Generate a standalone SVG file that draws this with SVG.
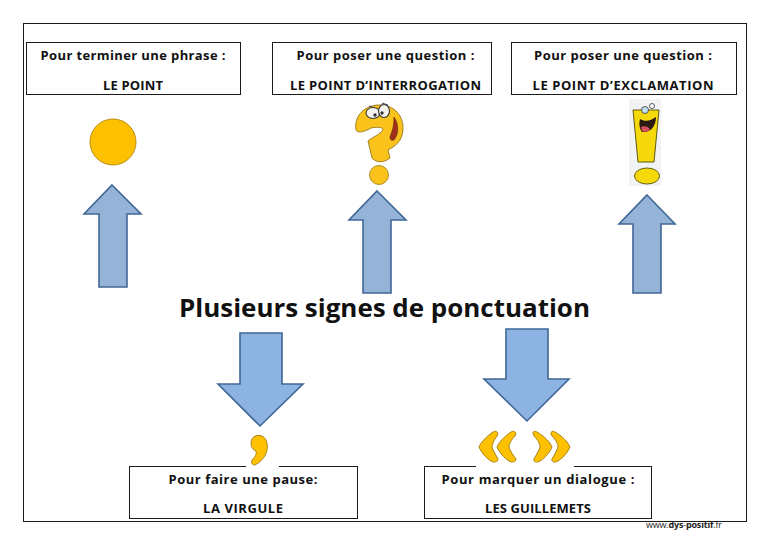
<svg xmlns="http://www.w3.org/2000/svg" width="768" height="543" viewBox="0 0 768 543">
<style>
.box{fill:#fff;stroke:#1a1a1a;stroke-width:1}
.t{font-family:"Open Sans","Liberation Sans",sans-serif;font-weight:700;font-size:13px;fill:#111;text-anchor:middle}
.up{fill:#95B3D7;stroke:#3F6797;stroke-width:1.6}
.down{fill:#8DB3E2;stroke:#3F6797;stroke-width:1.6}
.gold{fill:#FFC000;stroke:#A88418;stroke-width:1}
</style>
<rect width="768" height="543" fill="#fff"/>
<rect x="23.500" y="23.500" width="723" height="498" fill="none" stroke="#1a1a1a"/>
<g id="connectors">
<path class="up" d="M112 185L141 214H127V287H99V214H84Z"/>
<path class="up" d="M377 191L406 220H391V293H363V220H349Z"/>
<path class="up" d="M647 195L675 224H661V293H633V224H619Z"/>
<path class="down" d="M240 333H282V384H303L260 426L218 384H240Z"/>
<path class="down" d="M506 329H548V379H569L527 421L484 379H506Z"/>
</g>
<g id="title"><text x="384.500" y="317" style="font-family:'Open Sans','Liberation Sans',sans-serif;font-weight:700;font-size:25px;fill:#111;text-anchor:middle" textLength="411" lengthAdjust="spacingAndGlyphs">Plusieurs signes de ponctuation</text></g>
<g id="node-point">
<rect class="box" x="26.500" y="42.500" width="214" height="52"/>
<text class="t" x="133" y="60" textLength="185">Pour terminer une phrase :</text>
<text class="t" x="133" y="90" textLength="60">LE POINT</text>
<circle cx="113" cy="142" r="23" fill="#FFC000" stroke="#B88E10"/>
</g>
<g id="node-interrogation">
<rect class="box" x="272.500" y="42.500" width="219" height="52"/>
<text class="t" x="385.500" y="60" textLength="178">Pour poser une question :</text>
<text class="t" x="385.500" y="90" textLength="191">LE POINT D’INTERROGATION</text>
<path d="M356 130C354 118 362 106 378 105C395 104 404 117 403 130C402 142 395 146 388 150L390 158C384 163 376 163 372 158L368 141C372 137 382 134 383 129C382 127 376 127 371 128C366 131 358 134 356 130Z" fill="#F9C31B" stroke="#8a6a10" stroke-width=".8"/>
<circle cx="379" cy="175" r="9.500" fill="#F9C31B" stroke="#9a7a12" stroke-width=".8"/>
<ellipse cx="373" cy="113" rx="7" ry="5.500" fill="#f4f4ee" stroke="#333" stroke-width="1.100"/>
<ellipse cx="384" cy="111" rx="5.500" ry="6.500" fill="#f4f4ee" stroke="#333" stroke-width="1.100"/>
<circle cx="375" cy="115" r="1.700" fill="#333"/><circle cx="382" cy="113" r="1.700" fill="#333"/>
<path d="M369 106L375 108M382 103L388 105" fill="none" stroke="#444" stroke-width="1"/>
<path d="M394 117C399 124 399 134 394 140C390 141 389 138 391 134C393 129 394 124 394 117Z" fill="#A0301A" stroke="#5a2a10" stroke-width=".6"/>
</g>
<g id="node-exclamation">
<rect class="box" x="511.500" y="42.500" width="225" height="52"/>
<text class="t" x="623" y="60" textLength="178">Pour poser une question :</text>
<text class="t" x="623" y="90" textLength="181">LE POINT D’EXCLAMATION</text>
<rect x="629" y="99" width="32" height="87" fill="#f2f3f5"/>
<path d="M633 110H659L654 162H638Z" fill="#F6D90A" stroke="#5f5a10"/>
<ellipse cx="647" cy="176" rx="12.500" ry="8" fill="#F6D90A" stroke="#6a6210"/>
<circle cx="645" cy="110" r="3.500" fill="#BFE0F0" stroke="#333" stroke-width=".8"/>
<circle cx="652" cy="106" r="2.500" fill="#fff" stroke="#333" stroke-width=".8"/>
<path d="M640 119C645 122 651 121 656 117C656 127 650 133 642 132C639 128 639 123 640 119Z" fill="#2a1a10"/>
<path d="M641 127C645 125 649 127 650 130C647 132 643 132 642 131Z" fill="#D85060"/>
</g>
<g id="node-virgule">
<rect class="box" x="129.500" y="466.500" width="228" height="52"/>
<rect x="246" y="462" width="33" height="7" fill="#fff"/>
<text class="t" x="243" y="484" textLength="149">Pour faire une pause:</text>
<text class="t" x="243" y="513" textLength="80">LA VIRGULE</text>
<path class="gold" d="M252 439C255 434 263 434 266 440C270 449 265 460 255 465C252 465 251 463 252 460C255 457 257 454 256 451C251 449 250 443 252 439Z"/>
</g>
<g id="node-guillemets">
<rect class="box" x="424.500" y="466.500" width="227" height="52"/>
<rect x="476" y="462" width="98" height="7" fill="#fff"/>
<text class="t" x="538" y="484" textLength="193">Pour marquer un dialogue :</text>
<text class="t" x="538" y="513" textLength="106">LES GUILLEMETS</text>
<path class="gold" d="M493 432C497 430 499 433 497 436C494 440 492 444 492 447C493 451 496 455 498 459C498 462 494 463 491 461C486 458 481 452 479 447C481 442 487 436 493 432Z"/>
<path class="gold" d="M511 432C515 430 517 433 515 436C511 440 509 444 509 447C510 451 513 455 516 459C516 462 512 463 509 461C504 458 499 452 497 447C499 442 505 436 511 432Z"/>
<path class="gold" d="M537 432C533 430 532 433 534 436C538 440 540 444 540 447C539 451 536 455 534 459C533 462 537 463 540 461C545 458 550 452 552 447C550 442 544 436 537 432Z"/>
<path class="gold" d="M555 432C551 430 550 433 552 436C556 440 558 444 558 447C557 451 554 455 552 459C551 462 555 463 558 461C563 458 568 452 570 447C568 442 562 436 555 432Z"/>
</g>
<text x="684" y="528" style="font-family:'Open Sans','Liberation Sans',sans-serif;font-size:9px;fill:#222;text-anchor:middle" textLength="76">www.<tspan font-weight="700">dys</tspan>-<tspan font-weight="700">positif</tspan>.fr</text>
</svg>
